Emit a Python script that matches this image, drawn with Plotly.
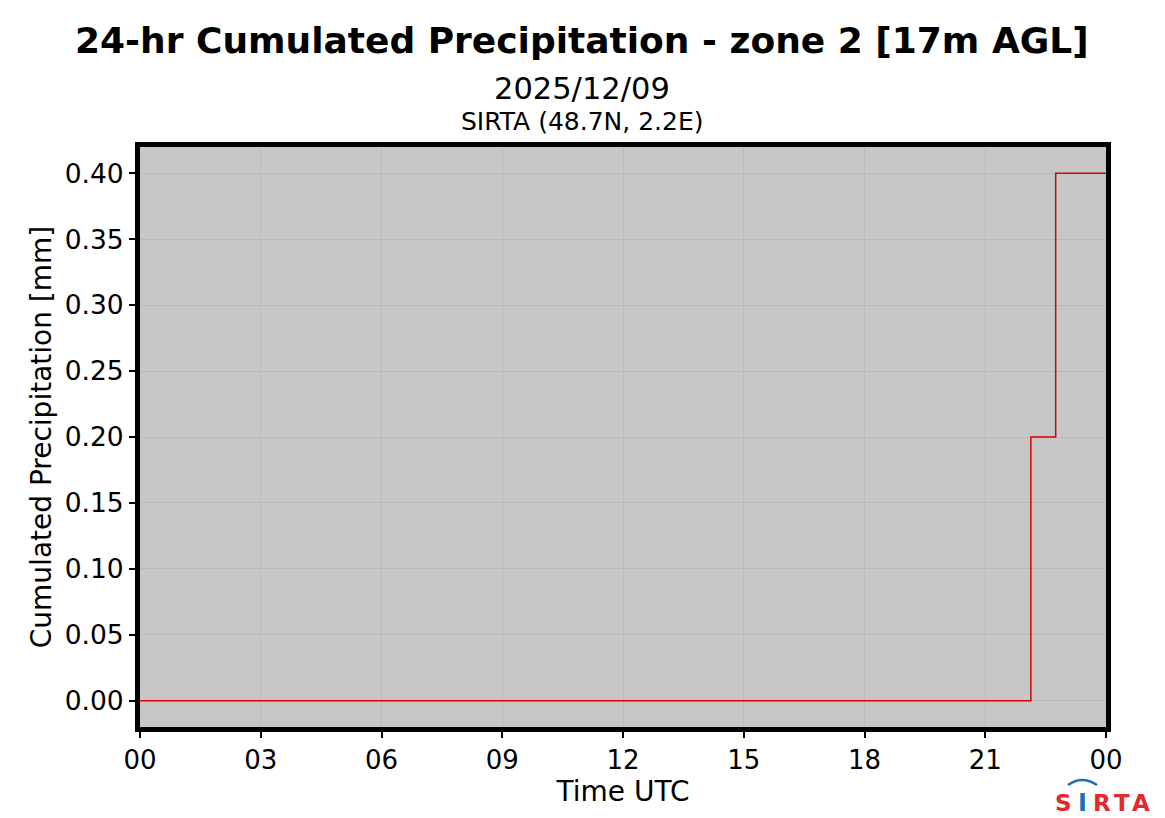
import plotly.graph_objects as go

# Data
times = ["2025-12-09 00:00", "2025-12-09 22:08", "2025-12-09 22:45", "2025-12-10 00:00"]
precip = [0.0, 0.2, 0.4, 0.4]
xtick_vals = ["2025-12-09 00:00", "2025-12-09 03:00", "2025-12-09 06:00", "2025-12-09 09:00",
              "2025-12-09 12:00", "2025-12-09 15:00", "2025-12-09 18:00", "2025-12-09 21:00",
              "2025-12-10 00:00"]
xtick_text = ["00", "03", "06", "09", "12", "15", "18", "21", "00"]
ytick_vals = [0.0, 0.05, 0.10, 0.15, 0.20, 0.25, 0.30, 0.35, 0.40]
logo_letters = ["S", "I", "R", "T", "A"]
logo_colors = ["#e8262b", "#1f6fb8", "#e8262b", "#e8262b", "#e8262b"]

FONT = "DejaVu Sans"

plot_h = 818 - 147 - 91
plot_w = 1165 - 140 - 59
def py(pix):
    return (818 - 91 - pix) / plot_h
def px(pix):
    return (pix - 140) / plot_w

fig = go.Figure()
fig.add_trace(go.Scatter(
    x=times, y=precip, mode="lines", line=dict(color="#dd0000", width=1.5, shape="hv"),
    showlegend=False, hoverinfo="skip"))

fig.update_layout(
    width=1165, height=818,
    margin=dict(l=140, r=59, t=147, b=91),
    paper_bgcolor="white", plot_bgcolor="#c7c7c7",
    font=dict(family=FONT, color="black"),
    xaxis=dict(
        type="date", range=["2025-12-09 00:00", "2025-12-10 00:00"],
        tickvals=xtick_vals, ticktext=xtick_text,
        tickfont=dict(size=26, family=FONT, color="black"),
        showgrid=True, gridcolor="#bababa", gridwidth=1,
        showline=True, linecolor="black", linewidth=5, mirror=True,
        ticks="outside", ticklen=6, tickwidth=1.5, tickcolor="black",
        zeroline=False,
        title=dict(text="Time UTC", font=dict(size=28, family=FONT, color="black"), standoff=6),
    ),
    yaxis=dict(
        range=[-0.02, 0.42], tickvals=ytick_vals, tickformat=".2f",
        tickfont=dict(size=26.5, family=FONT, color="black"),
        showgrid=True, gridcolor="#bababa", gridwidth=1,
        showline=True, linecolor="black", linewidth=5, mirror=True,
        ticks="outside", ticklen=6, tickwidth=1.5, tickcolor="black",
        zeroline=False,
        title=dict(text="Cumulated Precipitation [mm]", font=dict(size=28, family=FONT, color="black"), standoff=6),
    ),
)

fig.add_annotation(text="<b>24-hr Cumulated Precipitation - zone 2 [17m AGL]</b>",
                   x=px(582), y=py(40), xref="paper", yref="paper", showarrow=False,
                   yanchor="middle", font=dict(size=36, family=FONT, color="black"))
fig.add_annotation(text="2025/12/09", x=px(582), y=py(89), xref="paper", yref="paper",
                   showarrow=False, yanchor="middle", font=dict(size=30.5, family=FONT, color="black"))
fig.add_annotation(text="SIRTA (48.7N, 2.2E)", x=px(582), y=py(122), xref="paper", yref="paper",
                   showarrow=False, yanchor="middle", font=dict(size=25, family=FONT, color="black"))

# SIRTA logo
logo_x = [1063, 1082, 1102, 1122, 1141]
for letter, col, lx in zip(logo_letters, logo_colors, logo_x):
    fig.add_annotation(text=f"<b>{letter}</b>", x=px(lx), y=py(803), xref="paper", yref="paper",
                       showarrow=False, xanchor="center", yanchor="middle",
                       font=dict(size=24 if letter == "I" else 23, family="DejaVu Sans", color=col))
fig.add_shape(type="path", xref="paper", yref="paper",
              path=f"M {px(1068)} {py(785)} Q {px(1082)} {py(775)} {px(1097)} {py(785)}",
              line=dict(color="#1f6fb8", width=2.5))

fig.write_html("out.html")
